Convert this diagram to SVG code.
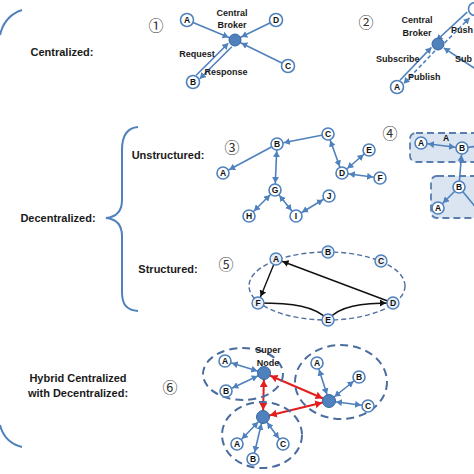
<svg xmlns="http://www.w3.org/2000/svg" width="474" height="474" viewBox="0 0 474 474">
<style>
.lbl{font-family:"Liberation Sans",Arial,sans-serif;font-weight:bold;font-size:11px;fill:#1a1a1a}
.sm{font-family:"Liberation Sans",Arial,sans-serif;font-weight:bold;font-size:9px;fill:#1a1a1a}
.nl{font-family:"Liberation Sans",Arial,sans-serif;font-weight:bold;font-size:8.5px;fill:#111;text-anchor:middle}
.num{font-family:"Noto Sans CJK SC","DejaVu Sans",sans-serif;font-size:15px;fill:#333;text-anchor:middle}
.nd{fill:#fff;stroke:#4f81bd;stroke-width:1.6}
.nd5{fill:#e9eef6;stroke:#4f81bd;stroke-width:1.4}
.hub{fill:#4f81bd;stroke:#3a66a0;stroke-width:1}
.ln{stroke:#4f81bd;stroke-width:1.6;fill:none}
.dl{stroke:#4f81bd;stroke-width:1.6;fill:none;stroke-dasharray:4 2.5}
.bk{stroke:#111;stroke-width:1.4;fill:none}
.rd{stroke:#e41e1e;stroke-width:2;fill:none}
.brace{stroke:#4f81bd;stroke-width:2;fill:none}
.ell{stroke:#4f6fa0;stroke-width:1.4;fill:none;stroke-dasharray:5 3}
.ell6{stroke:#4a6c9f;stroke-width:2;fill:none;stroke-dasharray:8 5}
.box{fill:#dbe5f1;stroke:#5a7eb0;stroke-width:1.8;stroke-dasharray:7 4}
</style>
<defs>
<marker id="aB" markerUnits="userSpaceOnUse" markerWidth="13" markerHeight="7" viewBox="0 0 13 7" refX="13" refY="3.5" orient="auto-start-reverse"><path d="M0,0 L6,3.5 L0,7 z" fill="#4f81bd"/></marker>
<marker id="aB0" markerUnits="userSpaceOnUse" markerWidth="6" markerHeight="7" viewBox="0 0 6 7" refX="6" refY="3.5" orient="auto-start-reverse"><path d="M0,0 L6,3.5 L0,7 z" fill="#4f81bd"/></marker>
<marker id="aK" markerUnits="userSpaceOnUse" markerWidth="13" markerHeight="7" viewBox="0 0 13 7" refX="13" refY="3.5" orient="auto-start-reverse"><path d="M0,0 L6,3.5 L0,7 z" fill="#111"/></marker>
<marker id="aR" markerUnits="userSpaceOnUse" markerWidth="14" markerHeight="8" viewBox="0 0 14 8" refX="14" refY="4" orient="auto-start-reverse"><path d="M0,0 L7,4 L0,8 z" fill="#e41e1e"/></marker>
</defs>
<rect width="474" height="474" fill="#fff"/>

<g id="braces">
<path class="brace" d="M22,10 C10,14 3,22 0,35"/>
<path class="brace" d="M0,425 C3,437 10,444 22,447"/>
<path class="brace" d="M138,127 C125,128 122,138 122,150 L122,200 C122,212 116,217 106,218 C116,219 122,224 122,236 L122,292 C122,304 126,310 138,311"/>
</g>

<g id="labels">
<text class="lbl" x="62" y="56" text-anchor="middle">Centralized:</text>
<text class="lbl" x="58" y="222" text-anchor="middle">Decentralized:</text>
<text class="lbl" x="168" y="159" text-anchor="middle">Unstructured:</text>
<text class="lbl" x="168" y="273" text-anchor="middle">Structured:</text>
<text class="lbl" x="78" y="382" text-anchor="middle">Hybrid Centralized</text>
<text class="lbl" x="78" y="397" text-anchor="middle">with Decentralized:</text>
<text class="num" x="156" y="31">①</text>
<text class="num" x="366" y="28">②</text>
<text class="num" x="232" y="153">③</text>
<text class="num" x="390" y="139">④</text>
<text class="num" x="226" y="270">⑤</text>
<text class="num" x="170" y="393">⑥</text>
</g>

<g id="connectors">
<line class="ln" x1="187" y1="20" x2="235" y2="40" marker-end="url(#aB)"/>
<line class="ln" x1="276" y1="20" x2="235" y2="40" marker-end="url(#aB)"/>
<line class="ln" x1="288" y1="66" x2="235" y2="40" marker-end="url(#aB)"/>
<line class="ln" x1="196.2" y1="75.3" x2="228.3" y2="43.2" marker-end="url(#aB0)"/>
<line class="ln" x1="231.8" y1="46.7" x2="199.7" y2="78.8" marker-end="url(#aB0)"/>
<line class="ln" x1="400" y1="80.2" x2="431.4" y2="47.4" marker-end="url(#aB0)"/>
<line class="dl" x1="435" y1="50.8" x2="403.6" y2="83.7" marker-end="url(#aB0)"/>
<line class="ln" x1="467.2" y1="12.1" x2="436.5" y2="40.5" marker-end="url(#aB0)"/>
<line class="dl" x1="444.5" y1="43" x2="469.5" y2="18" marker-end="url(#aB0)"/>
<line class="ln" x1="477" y1="70" x2="443.8" y2="47.9" marker-end="url(#aB0)"/>
<line class="ln" x1="223" y1="173" x2="277" y2="144" marker-start="url(#aB)"/>
<line class="ln" x1="328" y1="134" x2="277" y2="144" marker-end="url(#aB)"/>
<line class="ln" x1="328" y1="134" x2="342" y2="173" marker-start="url(#aB)" marker-end="url(#aB)"/>
<line class="ln" x1="342" y1="173" x2="369" y2="150" marker-start="url(#aB)" marker-end="url(#aB)"/>
<line class="ln" x1="342" y1="173" x2="380" y2="178" marker-start="url(#aB)" marker-end="url(#aB)"/>
<line class="ln" x1="277" y1="144" x2="275" y2="190" marker-start="url(#aB)" marker-end="url(#aB)"/>
<line class="ln" x1="275" y1="190" x2="249" y2="216" marker-start="url(#aB)" marker-end="url(#aB)"/>
<line class="ln" x1="275" y1="190" x2="296" y2="216" marker-start="url(#aB)" marker-end="url(#aB)"/>
<line class="ln" x1="296" y1="216" x2="329" y2="196" marker-start="url(#aB)" marker-end="url(#aB)"/>
<line class="bk" x1="393" y1="303" x2="276" y2="259" marker-end="url(#aK)"/>
<line class="bk" x1="276" y1="259" x2="258" y2="303" marker-end="url(#aK)"/>
<path class="bk" d="M258,303 C292,303 316,306 328,320"/>
<path class="bk" d="M328,320 C338,306 362,303 393,303" marker-end="url(#aK)"/>
<line class="ln" x1="225" y1="361" x2="264" y2="373" marker-start="url(#aB)" marker-end="url(#aB)"/>
<line class="ln" x1="226" y1="391" x2="264" y2="373" marker-start="url(#aB)" marker-end="url(#aB)"/>
<line class="ln" x1="317" y1="363" x2="329" y2="401" marker-start="url(#aB)" marker-end="url(#aB)"/>
<line class="ln" x1="359" y1="377" x2="329" y2="401" marker-start="url(#aB)" marker-end="url(#aB)"/>
<line class="ln" x1="368" y1="406" x2="329" y2="401" marker-start="url(#aB)" marker-end="url(#aB)"/>
<line class="ln" x1="237" y1="444" x2="263" y2="417" marker-start="url(#aB)" marker-end="url(#aB)"/>
<line class="ln" x1="253" y1="459" x2="263" y2="417" marker-start="url(#aB)" marker-end="url(#aB)"/>
<line class="ln" x1="283" y1="444" x2="263" y2="417" marker-start="url(#aB)" marker-end="url(#aB)"/>
<line class="rd" x1="264" y1="373" x2="329" y2="401" marker-start="url(#aR)" marker-end="url(#aR)"/>
<line class="rd" x1="264" y1="373" x2="263" y2="417" marker-start="url(#aR)" marker-end="url(#aR)"/>
<line class="rd" x1="263" y1="417" x2="329" y2="401" marker-start="url(#aR)" marker-end="url(#aR)"/>
</g>

<g id="section4">
<rect class="box" x="410" y="133" width="80" height="29" rx="6"/>
<rect class="box" x="431" y="176" width="60" height="42" rx="6"/>
<text class="nl" x="446" y="141">A</text>
<line class="ln" x1="421" y1="143" x2="462" y2="148" marker-start="url(#aB)" marker-end="url(#aB)"/>
<line class="ln" x1="462" y1="148" x2="480" y2="146"/>
<line class="ln" x1="459" y1="187" x2="462" y2="148" marker-end="url(#aB)"/>
<line class="ln" x1="459" y1="187" x2="438" y2="208" marker-end="url(#aB)"/>
<line class="ln" x1="459" y1="187" x2="478" y2="210"/>
<g id="n4-A1"><circle class="nd" cx="421" cy="143" r="6"/><text class="nl" x="421" y="146">A</text></g>
<g id="n4-B1"><circle class="nd" cx="462" cy="148" r="6"/><text class="nl" x="462" y="151">B</text></g>
<g id="n4-B2"><circle class="nd" cx="459" cy="187" r="6"/><text class="nl" x="459" y="190">B</text></g>
<g id="n4-A2"><circle class="nd" cx="438" cy="208" r="6"/><text class="nl" x="438" y="211">A</text></g>
</g>

<g id="section1">
<text class="sm" x="232" y="16" text-anchor="middle">Central</text>
<text class="sm" x="232" y="28" text-anchor="middle">Broker</text>
<text class="sm" x="197" y="57" text-anchor="middle">Request</text>
<text class="sm" x="226" y="75" text-anchor="middle">Response</text>
<g id="n1-broker"><circle class="hub" cx="235" cy="40" r="6"/></g>
<g id="n1-A"><circle class="nd" cx="187" cy="20" r="6.5"/><text class="nl" x="187" y="23">A</text></g>
<g id="n1-D"><circle class="nd" cx="276" cy="20" r="6.5"/><text class="nl" x="276" y="23">D</text></g>
<g id="n1-C"><circle class="nd" cx="288" cy="66" r="6.5"/><text class="nl" x="288" y="69">C</text></g>
<g id="n1-B"><circle class="nd" cx="193" cy="82" r="6.5"/><text class="nl" x="193" y="85">B</text></g>
</g>

<g id="section2">
<text class="sm" x="417" y="23" text-anchor="middle">Central</text>
<text class="sm" x="417" y="36" text-anchor="middle">Broker</text>
<text class="sm" x="376" y="62">Subscribe</text>
<text class="sm" x="408" y="80">Publish</text>
<text class="sm" x="451" y="33" font-size="8.5">Push</text>
<text class="sm" x="455" y="62">Sub</text>
<g id="n2-broker"><circle class="hub" cx="438" cy="44" r="6"/></g>
<g id="n2-A"><circle class="nd" cx="397" cy="87" r="6.5"/><text class="nl" x="397" y="90">A</text></g>
<g id="n2-X"><circle class="nd" cx="475" cy="9" r="6.5"/></g>
</g>

<g id="section3">
<g id="n3-A"><circle class="nd" cx="223" cy="173" r="6"/><text class="nl" x="223" y="176">A</text></g>
<g id="n3-B"><circle class="nd" cx="277" cy="144" r="6"/><text class="nl" x="277" y="147">B</text></g>
<g id="n3-C"><circle class="nd" cx="328" cy="134" r="6"/><text class="nl" x="328" y="137">C</text></g>
<g id="n3-D"><circle class="nd" cx="342" cy="173" r="6"/><text class="nl" x="342" y="176">D</text></g>
<g id="n3-E"><circle class="nd" cx="369" cy="150" r="6"/><text class="nl" x="369" y="153">E</text></g>
<g id="n3-F"><circle class="nd" cx="380" cy="178" r="6"/><text class="nl" x="380" y="181">F</text></g>
<g id="n3-G"><circle class="nd" cx="275" cy="190" r="6"/><text class="nl" x="275" y="193">G</text></g>
<g id="n3-H"><circle class="nd" cx="249" cy="216" r="6"/><text class="nl" x="249" y="219">H</text></g>
<g id="n3-I"><circle class="nd" cx="296" cy="216" r="6"/><text class="nl" x="296" y="219">I</text></g>
<g id="n3-J"><circle class="nd" cx="329" cy="196" r="6"/><text class="nl" x="329" y="199">J</text></g>
</g>

<g id="section5">
<ellipse class="ell" cx="327" cy="286" rx="78" ry="34"/>
<g id="n5-A"><circle class="nd5" cx="276" cy="259" r="6"/><text class="nl" x="276" y="262">A</text></g>
<g id="n5-B"><circle class="nd5" cx="328" cy="252" r="6"/><text class="nl" x="328" y="255">B</text></g>
<g id="n5-C"><circle class="nd5" cx="381" cy="261" r="6"/><text class="nl" x="381" y="264">C</text></g>
<g id="n5-D"><circle class="nd5" cx="393" cy="303" r="6"/><text class="nl" x="393" y="306">D</text></g>
<g id="n5-E"><circle class="nd5" cx="328" cy="320" r="6"/><text class="nl" x="328" y="323">E</text></g>
<g id="n5-F"><circle class="nd5" cx="258" cy="303" r="6"/><text class="nl" x="258" y="306">F</text></g>
</g>

<g id="section6">
<ellipse class="ell6" cx="243" cy="374" rx="40" ry="26"/>
<ellipse class="ell6" cx="341" cy="382" rx="46" ry="37"/>
<ellipse class="ell6" cx="262" cy="435" rx="40" ry="33"/>
<text class="sm" x="268" y="353" text-anchor="middle">Super</text>
<text class="sm" x="268" y="366" text-anchor="middle">Node</text>
<g id="sn1"><circle class="hub" cx="264" cy="373" r="6.5"/></g>
<g id="sn2"><circle class="hub" cx="329" cy="401" r="6.5"/></g>
<g id="sn3"><circle class="hub" cx="263" cy="417" r="6.5"/></g>
<g id="n6-A1"><circle class="nd" cx="225" cy="361" r="6"/><text class="nl" x="225" y="364">A</text></g>
<g id="n6-B1"><circle class="nd" cx="226" cy="391" r="6"/><text class="nl" x="226" y="394">B</text></g>
<g id="n6-A2"><circle class="nd" cx="317" cy="363" r="6"/><text class="nl" x="317" y="366">A</text></g>
<g id="n6-B2"><circle class="nd" cx="359" cy="377" r="6"/><text class="nl" x="359" y="380">B</text></g>
<g id="n6-C2"><circle class="nd" cx="368" cy="406" r="6"/><text class="nl" x="368" y="409">C</text></g>
<g id="n6-A3"><circle class="nd" cx="237" cy="444" r="6"/><text class="nl" x="237" y="447">A</text></g>
<g id="n6-B3"><circle class="nd" cx="253" cy="459" r="6"/><text class="nl" x="253" y="462">B</text></g>
<g id="n6-C3"><circle class="nd" cx="283" cy="444" r="6"/><text class="nl" x="283" y="447">C</text></g>
</g>
</svg>
